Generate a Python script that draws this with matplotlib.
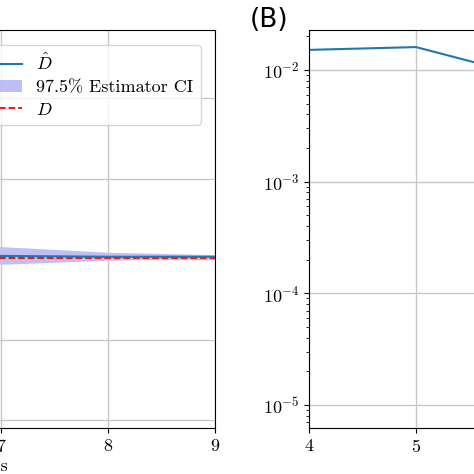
import matplotlib
matplotlib.use("Agg")
import matplotlib.pyplot as plt
import numpy as np

plt.rcParams['font.family'] = 'cmr10'
plt.rcParams['mathtext.fontset'] = 'cm'
plt.rcParams['axes.formatter.use_mathtext'] = True

# Panel A
a_x = [4, 5, 6, 7, 8, 9]
a_est = [2.1, 2.08, 2.06, 2.04, 2.03, 2.03]
a_half = [0.4, 0.25, 0.15, 0.11, 0.05, 0.02]
a_true = 2.01
# Panel B
b_x = [4, 5, 6, 7, 8, 9]
b_err = [0.0151, 0.0160, 0.0090, 0.006, 0.004, 0.003]

W = 474.0
fig = plt.figure(figsize=(4.74, 4.74), dpi=100)
bot, top = 46/W, (474-30)/W
ax = fig.add_axes([-319/W, bot, 534/W, top-bot])
est = np.array(a_est); hw = np.array(a_half)
ax.fill_between(a_x, est-hw, est+hw, color='#b8b8f5', alpha=0.9, label='97.5% Estimator CI', lw=0)
ax.axhline(a_true, color='red', ls='--', lw=1.3, label=r'$D$')
ax.plot(a_x, a_est, color='#1f77b4', lw=1.5, label=r'$\hat{D}$')
ax.set_xlim(4, 9); ax.set_ylim(-0.1, 4.85)
ax.set_xticks([4, 5, 6, 7, 8, 9]); ax.set_yticks([0, 1, 2, 3, 4])
ax.grid(True, color='#c8c8c8', lw=1)
ax.tick_params(labelsize=13)
h, l = ax.get_legend_handles_labels()
ax.legend([h[2], h[0], h[1]], [l[2], l[0], l[1]], loc='upper right', fontsize=13,
          bbox_to_anchor=(0.99, 0.985), handlelength=2.0, labelspacing=0.35)
fig.text(8/W, 0/W, 'Number of samples', ha='right', va='bottom', fontsize=13)

ax2 = fig.add_axes([309/W, bot, 535/W, top-bot])
ax2.plot(b_x, b_err, color='#1f77b4', lw=1.5)
ax2.set_yscale('log')
ax2.set_xlim(4, 9)
ax2.set_ylim(10**-5.205, 10**-1.643)
ax2.set_xticks([4, 5, 6, 7, 8, 9])
ax2.grid(True, color='#c8c8c8', lw=1)
ax2.tick_params(labelsize=13)
fig.text(250/W, (474-33)/W, '(B)', fontsize=19, family='DejaVu Sans', ha='left', va='bottom')
fig.savefig('out.png', dpi=100)
